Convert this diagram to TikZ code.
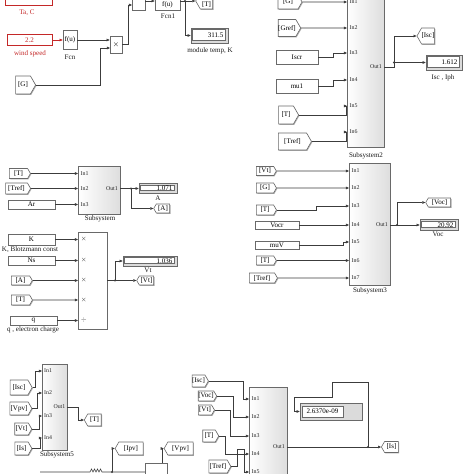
\documentclass[tikz,border=0pt]{standalone}
\usepackage{fontspec}
\setmainfont{Liberation Serif}
\usetikzlibrary{shapes.symbols,arrows.meta,shadows}
\definecolor{wirec}{RGB}{60,60,60}
\definecolor{blkc}{RGB}{105,105,105}
\definecolor{redc}{RGB}{196,40,40}
\definecolor{shadec}{RGB}{170,170,170}
\newcommand{\fsz}{\fontsize{6}{7}\selectfont}
\newcommand{\psz}{\fontsize{5}{6}\selectfont}
\def\px{0.03cm}

\begin{document}
\begin{tikzpicture}[x=\px, y=-\px,
    every node/.style={font=\fsz, inner sep=0pt},
    sz/.style 2 args={/utils/exec={\pgfmathsetlengthmacro\szw{#1*0.03cm}\pgfmathsetlengthmacro\szh{#2*0.03cm}},
        minimum width=\szw, minimum height=\szh},
    sh/.style={general shadow={shadow xshift=0.7pt, shadow yshift=-0.7pt, fill=shadec}},
    cnst/.style={rectangle, draw=blkc, fill=white, line width=0.5pt, sh},
    prd/.style={cnst},
    frm/.style={signal, signal to=east, signal pointer angle=120, draw=blkc, fill=white, line width=0.5pt, sh},
    gto/.style={frm, signal to=west},
    subs/.style={rectangle, draw=blkc, left color=white, right color=black!13, line width=0.6pt, sh},
    dispb/.style 2 args={rectangle, draw=blkc, fill=black!14, line width=0.5pt, sh, sz={#1}{#2},
        /utils/exec={\pgfmathsetlengthmacro\dispw{(#1-9)*0.03cm}}, text width=\dispw, align=right,
        path picture={\draw[blkc, fill=white, line width=0.4pt]
          ([shift={(1.3pt,-1.3pt)}]path picture bounding box.north west) rectangle
          ([shift={(-2.4pt,2.4pt)}]path picture bounding box.south east);}},
    dbox/.style={rectangle, draw=blkc, fill=black!14, line width=0.5pt, sh},
    vbox/.style={rectangle, draw=blkc, fill=white, line width=0.4pt},
    lowtxt/.style={text height=9.5pt, text depth=0pt},
    wire/.style={draw=wirec, line width=0.45pt, -{Triangle[length=2.6pt,width=2.2pt]}},
    wln/.style={draw=wirec, line width=0.45pt},
    plab/.style={font=\psz, anchor=west, text=black!85},
    lab/.style={font=\fsz, text=black!90},
    rlab/.style={font=\fsz, text=redc},
]
\useasboundingbox (0,0) rectangle (474,474);
\fill[white] (0,0) rectangle (474,474);
\clip (0,0) rectangle (474,474);

% ── Top left: module temperature ──
\node[cnst, draw=redc, sz={47}{15}] (tac) at (28.5,-2.5) {};
\node[rlab] (tacl) at (27,12.5) {Ta, C};
\node[cnst, draw=redc, text=redc, sz={45}{11}] (wind) at (29.5,40) {2.2};
\node[rlab] (windl) at (30,54) {wind speed};
\node[prd, sz={14}{19}] (fcn) at (70,40) {f(u)};
\node[lab] (fcnl) at (70,57) {Fcn};
\node[frm, sz={20}{18}] (g1) at (23,85) {[G]};
\node[prd, sz={12}{17}] (mul1) at (116,44.5) {$\times$};
\node[prd, sz={13}{18}] (mul2) at (138.5,1) {};
\node[prd, sz={25}{18}, lowtxt] (fcn1) at (167.5,1) {f(u)};
\node[lab] (fcn1l) at (168,16) {Fcn1};
\node[gto, sz={17}{16}, lowtxt] (tgo1) at (206.5,1) {[T]};
\node[dispb={37}{15}] (disp1) at (209.5,35.5) {311.5};
\node[lab] (disp1l) at (210,51) {module temp, K};
\coordinate (mul1b) at (110,48);
\coordinate (mul2a) at (132,5);
\coordinate (b1) at (185,1);
\draw[wire, draw=redc] (wind) -- (fcn);
\draw[wire] (fcn) -- (fcn -| mul1.west);
\draw[wire] (g1.east) -- ++(64,0) |- (mul1b);
\draw[wire] (mul1.east) -- ++(6,0) |- (mul2a);
\draw[wire] (mul2) -- (fcn1);
\draw[wire] (fcn1) -- (tgo1);
\draw[wire] (b1) |- (disp1.west);
\fill[wirec] (b1) circle (1pt);

% ── Top right: Subsystem2 (Isc) ──
\node[subs, sz={37}{157}] (sub2) at (365.5,68.5) {};
\foreach \yy [count=\i] in {2,28,53,80,106,132}{
  \coordinate (s2in\i) at (347,\yy);
  \node[plab] (s2l\i) at (349.5,\yy) {In\i};
}
\coordinate (s2out) at (384,67);
\node[plab, anchor=east] (s2lo) at (382,67) {Out1};
\node[lab] (sub2l) at (366,156) {Subsystem2};
\node[frm, sz={24}{14}] (g2) at (288,2) {[G]};
\node[frm, sz={22}{17}] (gref2) at (287,28) {[Gref]};
\node[cnst, sz={42}{14}] (iscr) at (297,57) {Iscr};
\node[cnst, sz={42}{14}] (mu1) at (297,86) {mu1};
\node[frm, sz={20}{18}] (t2) at (286,115) {[T]};
\node[frm, sz={33}{17}] (tref2) at (292.5,141.5) {[Tref]};
\node[gto, sz={16}{16}] (isc2) at (428,36) {[Isc]};
\node[dispb={36}{15}] (disp2) at (444,62.5) {1.612};
\node[lab] (disp2l) at (443,78) {Isc , Iph};
\coordinate (b2) at (394,62.5);
\draw[wire] (g2) -- (s2in1);
\draw[wire] (gref2) -- (s2in2);
\draw[wire] (iscr.east) -- ++(15,0) |- (s2in3);
\draw[wire] (mu1.east) -- ++(15,0) |- (s2in4);
\draw[wire] (t2.east) -- ++(47,0) |- (s2in5);
\draw[wire] (tref2.east) -- ++(34,0) |- (s2in6);
\draw[wire] (s2out) -- ++(10,0) |- (isc2.west);
\draw[wire] (b2) -- (disp2.west);
\fill[wirec] (b2) circle (1pt);

% ── Middle left: Subsystem (A) ──
\node[frm, sz={21}{10}] (t3) at (18.5,173.5) {[T]};
\node[frm, sz={25}{11}] (tref3) at (16.5,188.5) {[Tref]};
\node[cnst, sz={47}{9}] (ar) at (31.5,204.5) {Ar};
\node[subs, sz={42}{48}] (sub1) at (99,190) {};
\foreach \yy [count=\i] in {173.5,188.5,204.5}{
  \coordinate (s1in\i) at (78,\yy);
  \node[plab] (s1l\i) at (80.5,\yy) {In\i};
}
\coordinate (s1out) at (120,188.5);
\node[plab, anchor=east] (s1lo) at (118,188.5) {Out1};
\node[lab] (sub1l) at (100,219) {Subsystem};
\node[dispb={38}{10}] (disp3) at (158,188.5) {1.071};
\node[lab] (disp3l) at (158,198) {A};
\node[gto, sz={16}{9}] (a3) at (163,208.5) {[A]};
\coordinate (b3) at (131,188.5);
\draw[wire] (t3) -- (s1in1);
\draw[wire] (tref3) -- (s1in2);
\draw[wire] (ar) -- (s1in3);
\draw[wire] (s1out) -- (disp3.west);
\draw[wire] (b3) |- (a3.west);
\fill[wirec] (b3) circle (1pt);

% ── Middle left: product (Vt) ──
\node[prd, sz={29}{97}] (mul3) at (92.5,280.5) {};
\foreach \yy/\sg [count=\i] in {239.5/$\times$,260.5/$\times$,280.5/$\times$,300/$\times$,320.5/$\div$}{
  \coordinate (m3in\i) at (78,\yy);
  \node[plab] (m3l\i) at (80.5,\yy) {\sg};
}
\coordinate (m3out) at (107,280.5);
\node[cnst, sz={47}{11}] (kc) at (31.5,239.5) {K};
\node[lab] (kcl) at (30,249.5) {K, Blotzmann const};
\node[cnst, sz={47}{9}] (ns) at (31.5,260.5) {Ns};
\node[frm, sz={21}{9}] (a4) at (20.5,280.5) {[A]};
\node[frm, sz={21}{10}] (t4) at (20.5,300) {[T]};
\node[cnst, sz={47}{9}] (qc) at (33.5,320.5) {q};
\node[lab] (qcl) at (33,330) {q , electron charge};
\node[dispb={54}{10}] (disp4) at (150,261) {1.036};
\node[lab] (disp4l) at (148,270.5) {Vt};
\node[gto, sz={17}{9}] (vt4) at (146.5,280.5) {[Vt]};
\coordinate (b4) at (115,280.5);
\draw[wire] (kc) -- (m3in1);
\draw[wire] (ns) -- (m3in2);
\draw[wire] (a4) -- (m3in3);
\draw[wire] (t4) -- (m3in4);
\draw[wire] (qc) -- (m3in5);
\draw[wire] (m3out) -- (vt4.west);
\draw[wire] (b4) |- (disp4.west);
\fill[wirec] (b4) circle (1pt);

% ── Middle right: Subsystem3 (Voc) ──
\node[subs, sz={41}{122}] (sub3) at (369.5,224) {};
\foreach \yy [count=\i] in {171,188,206,225,242,260.5,278}{
  \coordinate (s3in\i) at (349,\yy);
  \node[plab] (s3l\i) at (351.5,\yy) {In\i};
}
\coordinate (s3out) at (390,225);
\node[plab, anchor=east] (s3lo) at (388,225) {Out1};
\node[lab] (sub3l) at (370,290.5) {Subsystem3};
\node[frm, sz={20}{9}] (vt5) at (265,171) {[Vt]};
\node[frm, sz={20}{10}] (g5) at (265,188) {[G]};
\node[frm, sz={20}{10}] (t5) at (265,210) {[T]};
\node[cnst, sz={44}{8}] (vocr) at (277,225) {Vocr};
\node[cnst, sz={44}{8}] (muv) at (277,245) {muV};
\node[frm, sz={20}{9}] (t6) at (265,260.5) {[T]};
\node[frm, sz={28}{10}] (tref5) at (262,278) {[Tref]};
\node[gto, sz={25}{9}] (voc5) at (439.5,202.5) {[Voc]};
\node[dispb={38}{11}] (disp5) at (439,225) {20.92};
\node[lab] (disp5l) at (438,234.5) {Voc};
\coordinate (b5) at (397,225);
\draw[wire] (vt5) -- (s3in1);
\draw[wire] (g5) -- (s3in2);
\draw[wire] (t5.east) -- ++(39,0) |- (s3in3);
\draw[wire] (vocr) -- (s3in4);
\draw[wire] (muv.east) -- ++(44,0) |- (s3in5);
\draw[wire] (t6) -- (s3in6);
\draw[wire] (tref5) -- (s3in7);
\draw[wire] (s3out) -- (disp5.west);
\draw[wire] (b5) |- (voc5.west);
\fill[wirec] (b5) circle (1pt);

% ── Bottom left: Subsystem5 (T) ──
\node[subs, sz={25}{86}] (sub5) at (54.5,407) {};
\foreach \yy [count=\i] in {371,393,416,438}{
  \coordinate (s5in\i) at (42,\yy);
  \node[plab] (s5l\i) at (44,\yy) {In\i};
}
\coordinate (s5out) at (67,407);
\node[plab, anchor=east] (s5lo) at (65.5,407) {Out1};
\node[lab] (sub5l) at (57,454.5) {Subsystem5};
\node[frm, sz={22}{15}] (isc6) at (19,387.5) {[Isc]};
\node[frm, sz={22}{13}] (vpv6) at (19,408.5) {[Vpv]};
\node[frm, sz={17}{12}] (vt6) at (21.5,429) {[Vt]};
\node[frm, sz={17}{13}] (is6) at (21.5,448.5) {[Is]};
\node[gto, sz={17}{12}] (t7) at (94.5,420) {[T]};
\draw[wire] (isc6.east) -- ++(3,0) |- (s5in1);
\draw[wire] (vpv6.east) -- ++(5,0) |- (s5in2);
\draw[wire] (vt6.east) -- ++(7,0) |- (s5in3);
\draw[wire] (is6.east) -- ++(8,0) |- (s5in4);
\draw[wire] (s5out) -- ++(11,0) |- (t7.west);

% ── Bottom right: Subsystem (Is) ──
\node[subs, sz={38}{106}] (sub6) at (268,440) {};
\foreach \yy [count=\i] in {399,417,436,454,472}{
  \coordinate (s6in\i) at (249,\yy);
  \node[plab] (s6l\i) at (251.5,\yy) {In\i};
}
\coordinate (s6out) at (287,447);
\node[plab, anchor=east] (s6lo) at (285,447) {Out1};
\node[frm, sz={15}{12}] (isc7) at (198.5,381) {[Isc]};
\node[frm, sz={18}{10}] (voc7) at (206,396) {[Voc]};
\node[frm, sz={16}{10}] (vt7) at (205,410) {[Vt]};
\node[frm, sz={16}{12}] (t8) at (209,436) {[T]};
\node[frm, sz={22}{13}] (tref7) at (218,466.5) {[Tref]};
\node[gto, sz={17}{11}] (is7) at (391.5,447) {[Is]};
\node[dbox, sz={62}{17}] (disp6) at (331,411.5) {};
\node[vbox, sz={41}{11}] (disp6v) at (322.5,411.5) {2.6370e-09};
\coordinate (b6) at (368,447);
\draw[wire] (isc7.east) -- ++(35,0) |- (s6in1);
\draw[wire] (voc7.east) -- ++(16,0) |- (s6in2);
\draw[wire] (vt7.east) -- ++(15,0) |- (s6in3);
\draw[wire] (t8.east) -- ++(6,0) |- (s6in4);
\draw[wire] (tref7.east) -- ++(6,0) -- ++(0,-17.5) -- ++(7,0) |- (s6in5);
\draw[wire] (s6out) -- (is7.west);
\draw[wire] (b6) -- ++(0,-65) -- ++(-36,0) -- ++(0,15) -- ++(-38,0) |- (disp6.west);
\fill[wirec] (b6) circle (1pt);

% ── Bottom: PV circuit (cut off) ──
\node[gto, sz={28}{13}] (ipv) at (131,448.5) {[Ipv]};
\node[gto, sz={29}{13}] (vpv7) at (180.5,448.5) {[Vpv]};
\node[cnst, sz={22}{16}, anchor=north west] (pbox) at (145,463) {};
\coordinate (c0) at (40,472);
\coordinate (c1) at (112,472);
\coordinate (c2) at (162,463);
\draw[wire] (c1) |- (ipv.west);
\draw[wire] (c2) |- (vpv7.west);
\draw[wln] (c0) -- ++(50,0) -- ++(1.5,-3) -- ++(1.5,3) -- ++(1.5,-3) -- ++(1.5,3)
  -- ++(1.5,-3) -- ++(1.5,3) -- ++(1.5,-3) -- ++(1.5,3) -- (pbox.west |- c0);
\fill[wirec] (c1) circle (1pt);

\end{tikzpicture}
\end{document}
